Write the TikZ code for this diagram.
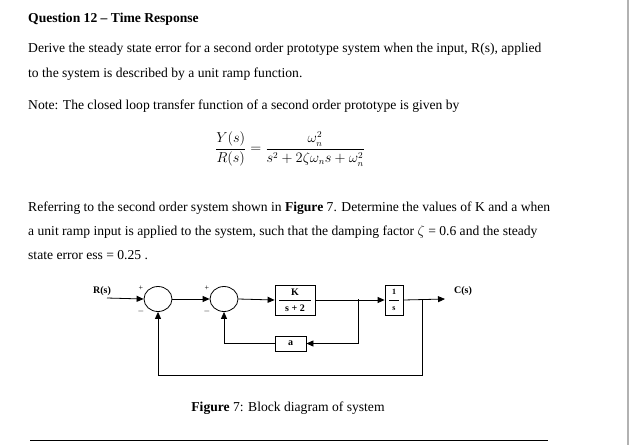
\documentclass[tikz,border=0pt]{standalone}
\usepackage{fontspec}
\setmainfont{Liberation Serif}
\usetikzlibrary{arrows.meta,shapes.geometric}
\begin{document}
\begin{tikzpicture}[x=1pt,y=-1pt,
  txt/.style={anchor=base west,inner sep=0pt,font=\fontsize{13.6}{16}\selectfont},
  blk/.style={draw,thick,inner sep=0pt,font=\fontsize{10}{12}\selectfont\bfseries},
  bt/.style={font=\fontsize{10}{12}\selectfont\bfseries,inner sep=0pt},
  sumj/.style={draw,thick,ellipse,minimum width=28pt,minimum height=25pt,inner sep=0pt},
  sig/.style={font=\fontsize{8}{9}\selectfont,inner sep=0pt},
  ar/.style={thick,-{Triangle[length=7pt,width=6pt]}}]
\useasboundingbox (0,0) rectangle (631,445);
\draw[gray!60,line width=1.5pt] (628,0) -- (628,445);
\node[txt,font=\fontsize{13.6}{16}\selectfont\bfseries] (title) at (28,22) {Question 12 -- Time Response};
\node[txt] (l1) at (28,52) {Derive the steady state error for a second order prototype system when the input, R(s), applied};
\node[txt] (l2) at (28,77) {to the system is described by a unit ramp function.};
\node[txt] (l3) at (28,109) {Note: The closed loop transfer function of a second order prototype is given by};
\node[inner sep=0pt,font=\fontsize{13.5}{16}\selectfont] (eq) at (290,149) {$\displaystyle\frac{Y(s)}{R(s)}=\frac{\omega_n^2}{s^2+2\zeta\omega_n s+\omega_n^2}$};
\node[txt] (l4) at (28,211) {Referring to the second order system shown in \textbf{Figure} 7. Determine the values of K and a when};
\node[txt] (l5) at (28,235) {a unit ramp input is applied to the system, such that the damping factor $\zeta$ = 0.6 and the steady};
\node[txt] (l6) at (28,259) {state error ess = 0.25 .};
% diagram
\coordinate (in) at (107,298);
\node[bt] (R) at (102,291) {R(s)};
\node[sumj] (s1) at (158,299) {};
\node[sumj] (s2) at (224,299) {};
\node[blk,minimum width=40pt,minimum height=30pt] (K) at (295,300) {};
\node[bt] (Kn) at (295,292) {K};
\node[bt] (Kd) at (295,308.5) {s + 2};
\draw[thick] (279,300) -- (311,300);
\node[blk,minimum width=18pt,minimum height=30pt] (I) at (394,300) {};
\node[bt,font=\fontsize{8}{9}\selectfont\bfseries] (In) at (394,292) {1};
\node[bt,font=\fontsize{8}{9}\selectfont\bfseries] (Id) at (394,309) {s};
\draw[thin] (389,300) -- (399,300);
\node[blk,minimum width=31pt,minimum height=15pt] (a) at (290.5,343.5) {a};
\node[bt] (C) at (463,291) {C(s)};
\coordinate (b1) at (358,299);
\coordinate (b2) at (422,299);
\coordinate (out) at (445,299);
\draw[ar] (in) -- (s1.west);
\draw[ar] (s1.east) -- (s2.west);
\draw[ar] (s2.east) -- (K.west);
\draw[ar] (K.east) -- (I.west);
\draw[ar] (I.east) -- (out);
\draw[ar] (b1) |- (a.east);
\draw[ar] (a.west) -| (s2.south);
\draw[ar] (b2) |- (158,375) -- (s1.south);
\node[sig] (p1) at (141,288) {+};
\node[sig] (m1) at (141,311) {$-$};
\node[sig] (p2) at (207,288) {+};
\node[sig] (m2) at (207,311) {$-$};
\node[inner sep=0pt,font=\fontsize{13.6}{16}\selectfont] (cap) at (288,408) {\textbf{Figure} 7: Block diagram of system};
\draw[thick,double,double distance=1pt] (30,441) -- (548,441);
\end{tikzpicture}
\end{document}
